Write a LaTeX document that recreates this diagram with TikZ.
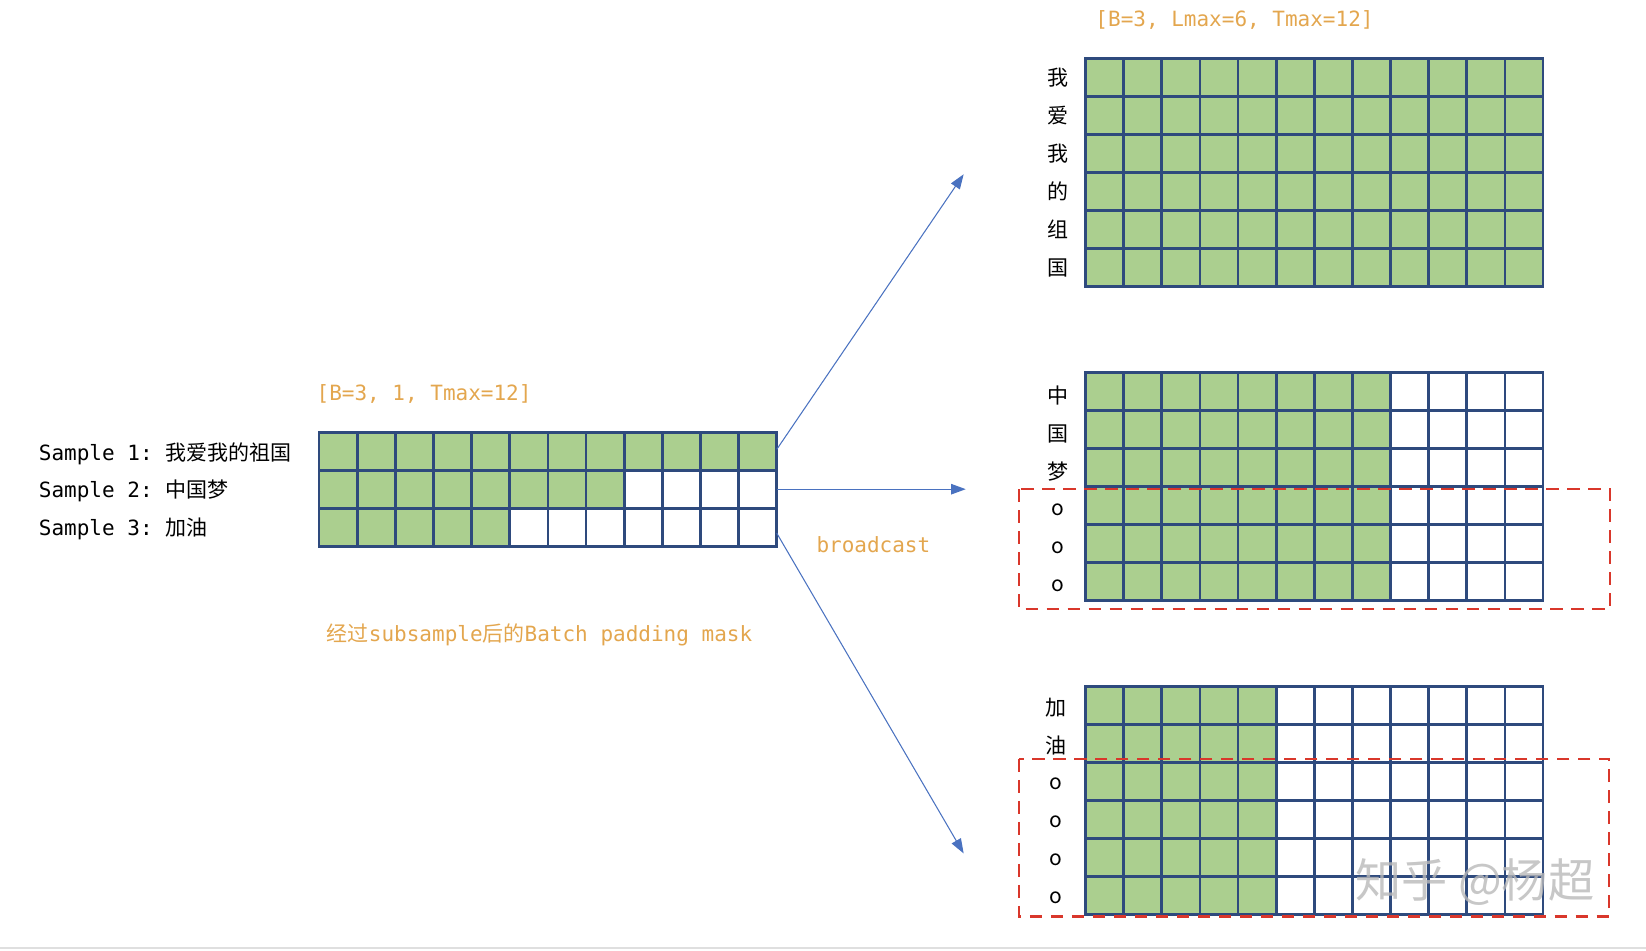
\documentclass[tikz,border=0pt]{standalone}
\usepackage{fontspec}
\setmainfont{DejaVu Sans}
\setmonofont{DejaVu Sans Mono}
\newfontfamily\cjk{Noto Sans CJK SC}
\usetikzlibrary{arrows.meta}
\definecolor{cg}{HTML}{ABCF8F}
\definecolor{cb}{HTML}{2E4A7D}
\definecolor{co}{HTML}{E3A64E}
\definecolor{cr}{HTML}{D9372B}
\definecolor{ca}{HTML}{4A72C0}
\tikzset{
  cell/.style={draw=cb,line width=1.3pt},
  lab/.style={font=\cjk\fontsize{10}{12}\selectfont,text=black},
  olab/.style={font=\ttfamily\fontsize{10}{12}\selectfont,text=co},
  samp/.style={font=\ttfamily\fontsize{10}{12}\selectfont,anchor=west},
  red box/.style={draw=cr,line width=1.1pt,dash pattern=on 6pt off 4pt},
  conn/.style={draw=ca,line width=0.5pt,-{Triangle[length=7pt,width=5pt]}}
}
% grid: x0, ytop (image px), rows, list of green counts per row
\newcommand{\mygrid}[4]{%
  \foreach \r [count=\i from 0] in {#4}{%
    \foreach \c in {0,...,11}{%
      \pgfmathsetmacro{\fc}{\c<\r ? 1 : 0}%
      \ifdim\fc pt>0.5pt
        \filldraw[cell,fill=cg] ({#1+\c*36.33},{-(#2+\i*36.2)}) rectangle ++(36.33,-36.2);
      \else
        \filldraw[cell,fill=white] ({#1+\c*36.33},{-(#2+\i*36.2)}) rectangle ++(36.33,-36.2);
      \fi
    }%
  }%
}
\begin{document}
\begin{tikzpicture}[x=0.5pt,y=0.5pt]
\useasboundingbox (0,0) rectangle (1568,-905);
\draw[gray!25,line width=0.6pt] (0,-903) -- (1568,-903);
% left grid
\mygrid{304}{412}{3}{12,8,5}
\coordinate (s1) at (740,-428);
\coordinate (s2) at (740,-466);
\coordinate (s3) at (740,-508);
\node[olab] (t1) at (404,-375) {[B=3, 1, Tmax=12]};
\node[samp] (a1) at (30,-432) {Sample 1: {\cjk 我爱我的祖国}};
\node[samp] (a2) at (30,-468) {Sample 2: {\cjk 中国梦}};
\node[samp] (a3) at (30,-504) {Sample 3: {\cjk 加油}};
\node[olab] (cap) at (514,-605) {{\cjk 经过}subsample{\cjk 后的}Batch padding mask};
\node[olab] (bc) at (832,-519) {broadcast};
% right grids
\node[olab] (t2) at (1176,-19) {[B=3, Lmax=6, Tmax=12]};
\mygrid{1034}{56}{6}{12,12,12,12,12,12}
\mygrid{1034}{355}{6}{8,8,8,8,8,8}
\mygrid{1034}{654}{6}{5,5,5,5,5,5}
\foreach \t [count=\i from 0] in {我,爱,我,的,组,国}
  \node[lab] (l1\i) at (1008,{-(74+\i*36.2)}) {\t};
\foreach \t [count=\i from 0] in {中,国,梦,o,o,o}
  \node[lab] (l2\i) at (1008,{-(377+\i*36.2)}) {\t};
\foreach \t [count=\i from 0] in {加,油,o,o,o,o}
  \node[lab] (l3\i) at (1006,{-(674+\i*36.2)}) {\t};
\draw[red box] (971,-466) rectangle (1534,-580);
\draw[red box] (971,-723) rectangle (1533,-873);
% arrows
\coordinate (e1) at (918,-166);
\coordinate (e2) at (920,-466);
\coordinate (e3) at (918,-813);
\draw[conn] (s1) -- (e1);
\draw[conn] (s2) -- (e2);
\draw[conn] (s3) -- (e3);
\node[font=\cjk\fontsize{22}{24}\selectfont,text=white,draw=none,
  text opacity=0.8] (wm) at (1405,-840) {\textcolor{gray!55}{知乎 @杨超}};
\end{tikzpicture}
\end{document}
